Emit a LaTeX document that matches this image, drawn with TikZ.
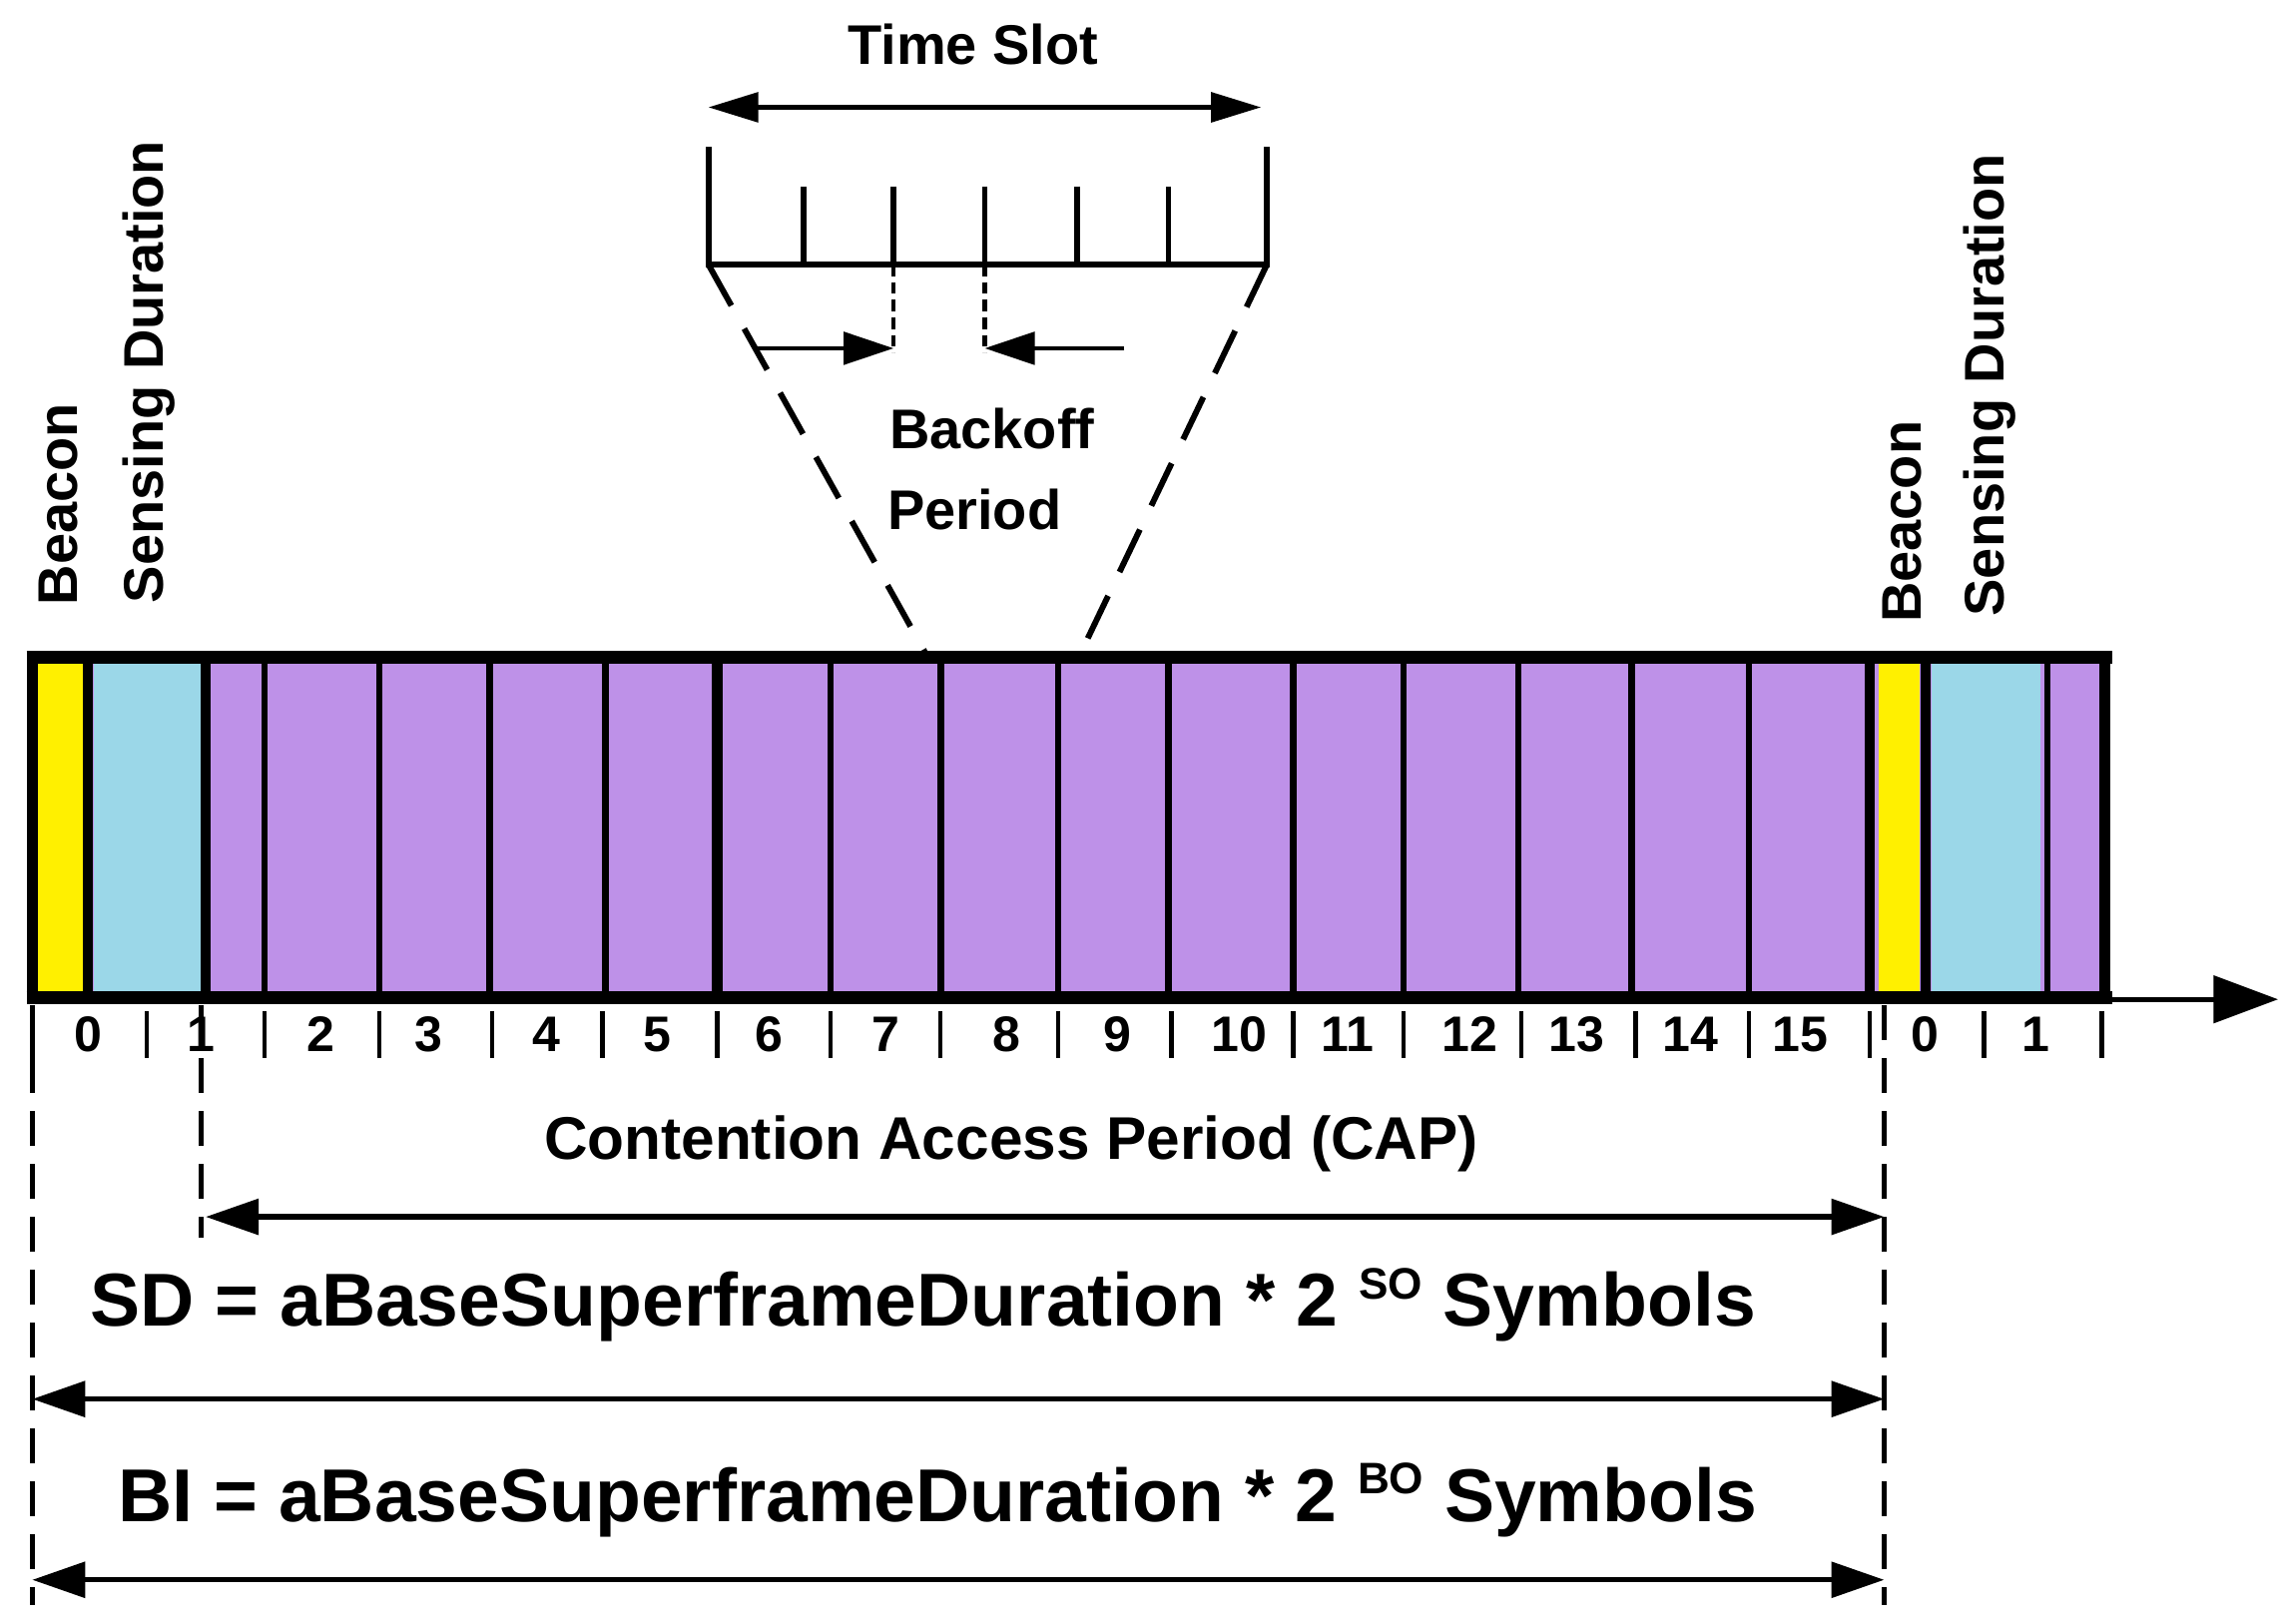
\documentclass[tikz,border=0pt]{standalone}
\usepackage{fontspec}
\setmainfont{Liberation Sans}
\usetikzlibrary{arrows.meta}
\definecolor{purp}{RGB}{190,145,232}
\definecolor{sky}{RGB}{155,215,232}
\definecolor{yel}{RGB}{255,240,0}
\begin{document}
\begin{tikzpicture}[x=0.5pt,y=-0.5pt,
  lbl/.style={font=\bfseries\fontsize{19}{21}\selectfont,inner sep=0},
  num/.style={font=\bfseries\fontsize{17}{19}\selectfont,inner sep=0},
  big/.style={font=\bfseries\fontsize{25.5}{28}\selectfont,inner sep=0},
  dim/.style={line width=1.8pt,{Triangle[length=18pt,width=12pt]}-{Triangle[length=18pt,width=12pt]}},
  vdash/.style={line width=1.6pt,dash pattern=on 12pt off 6pt},
  sep/.style={line width=2.2pt}]
\useasboundingbox (0,0) rectangle (1552,1105);
% bar
\fill[purp] (20,447) rectangle (1435,678);
\fill[yel] (25,447) rectangle (57,678);
\fill[sky] (64,447) rectangle (137,678);
\fill[yel] (1278,447) rectangle (1306,678);
\fill[sky] (1314,447) rectangle (1388,678);
\foreach \x in {180,258,333,412,565,640,720,795,880,955,1033,1110,1190,1393}
  \draw[sep] (\x,447) -- (\x,678);
\foreach \x in {22,60,140,488,1272,1310,1432}
  \draw[line width=3.5pt] (\x,447) -- (\x,678);
\draw[line width=4.5pt] (18,447) -- (1437,447);
\draw[line width=4.5pt] (18,679) -- (1437,679);
\coordinate (axs) at (1435,680);
\coordinate (axe) at (1550,680);
\draw[line width=1.6pt,-{Triangle[length=22pt,width=16pt]}] (axs) -- (axe);
% ticks and numbers
\foreach \x in {22,100,180,258,335,410,488,565,640,720,797,880,955,1035,1113,1190,1272,1350,1430}
  \draw[line width=1.5pt] (\x,688) -- (\x,720);
\foreach \x/\t in {60/0,137/1,218/2,292/3,372/4,447/5,523/6,603/7,685/8,760/9,843/10,917/11,1000/12,1073/13,1150/14,1225/15,1310/0,1385/1}
  \node[num] (n\x) at (\x,704) {\t};
% vertical dashed lines
\coordinate (d1a) at (22,684); \coordinate (d1b) at (22,1092);
\coordinate (d2a) at (137,684); \coordinate (d2b) at (137,842);
\coordinate (d3a) at (1282,684); \coordinate (d3b) at (1282,1092);
\draw[vdash] (d1a) -- (d1b);
\draw[vdash] (d2a) -- (d2b);
\draw[vdash] (d3a) -- (d3b);
% dimension arrows
\node[lbl,font=\bfseries\fontsize{20.5}{22}\selectfont] (cap) at (688,778) {Contention Access Period (CAP)};
\coordinate (c1) at (140,828); \coordinate (c2) at (1282,828);
\draw[dim] (c1) -- (c2);
\node[big] (sd) at (628,888) {SD = aBaseSuperframeDuration * 2 \raisebox{0.7ex}{\fontsize{15}{16}\selectfont SO} Symbols};
\coordinate (s1) at (22,952); \coordinate (s2) at (1282,952);
\draw[dim] (s1) -- (s2);
\node[big] (bi) at (638,1021) {BI = aBaseSuperframeDuration * 2 \raisebox{0.7ex}{\fontsize{15}{16}\selectfont BO} Symbols};
\coordinate (b1) at (22,1075); \coordinate (b2) at (1282,1075);
\draw[dim] (b1) -- (b2);
% rotated labels
\node[lbl,rotate=90] (bc1) at (40,343) {Beacon};
\node[lbl,rotate=90] (sd1) at (101,253) {Sensing Duration};
\node[lbl,rotate=90] (bc2) at (1294,355) {Beacon};
\node[lbl,rotate=90] (sd2) at (1354,262) {Sensing Duration};
% time slot zoom
\node[lbl] (ts) at (662,30) {Time Slot};
\coordinate (t1) at (482,73); \coordinate (t2) at (858,73);
\draw[line width=1.6pt,{Triangle[length=17pt,width=10pt]}-{Triangle[length=17pt,width=10pt]}] (t1) -- (t2);
\coordinate (rl) at (482,180); \coordinate (rr) at (862,180);
\draw[line width=2pt] (482,100) -- (rl) -- (rr) -- (862,100);
\foreach \x in {547,608,670,733,795}
  \draw[line width=2pt] (\x,127) -- (\x,180);
\draw[line width=1.5pt,dash pattern=on 4pt off 2pt] (608,180) -- (608,240);
\draw[line width=1.5pt,dash pattern=on 4pt off 2pt] (670,180) -- (670,240);
\coordinate (k1) at (515,237); \coordinate (k2) at (608,237);
\coordinate (k3) at (670,237); \coordinate (k4) at (765,237);
\draw[line width=1.4pt,-{Triangle[length=17pt,width=11pt]}] (k1) -- (k2);
\draw[line width=1.4pt,-{Triangle[length=17pt,width=11pt]}] (k4) -- (k3);
\node[lbl] (bo1) at (675,292) {Backoff};
\node[lbl] (bo2) at (663,347) {Period};
\coordinate (z1) at (630,445); \coordinate (z2) at (735,445);
\draw[line width=2pt,dash pattern=on 16pt off 9pt] (rl) -- (z1);
\draw[line width=2pt,dash pattern=on 16pt off 9pt] (rr) -- (z2);
\end{tikzpicture}
\end{document}
